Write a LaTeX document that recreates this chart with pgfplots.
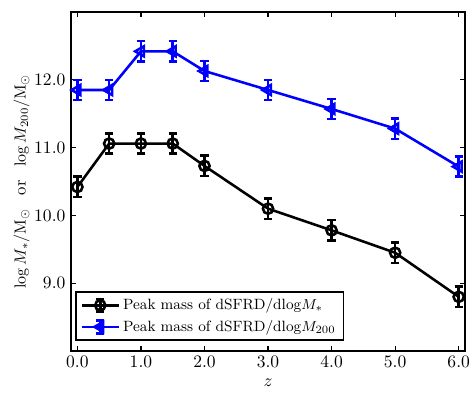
\documentclass[border=0pt]{standalone}
\usepackage{pgfplots}
\pgfplotsset{compat=1.18}
\pgfplotstableread{
z m e
0.0 10.42 0.15
0.5 11.06 0.15
1.0 11.06 0.15
1.5 11.06 0.15
2.0 10.73 0.15
3.0 10.10 0.15
4.0 9.78 0.15
5.0 9.45 0.15
6.0 8.80 0.15
}\starT
\pgfplotstableread{
z m e
0.0 11.85 0.15
0.5 11.85 0.15
1.0 12.42 0.15
1.5 12.42 0.15
2.0 12.13 0.15
3.0 11.85 0.15
4.0 11.57 0.15
5.0 11.28 0.15
6.0 10.72 0.15
}\haloT
\begin{document}
\begin{tikzpicture}
\begin{axis}[
  name=ax,
  scale only axis, width=246.25pt, height=211.9pt,
  xmin=-0.1, xmax=6.1, ymin=8.0, ymax=13.0,
  xtick={0,1,2,3,4,5,6}, ytick={9,10,11,12},
  xticklabel={\pgfmathprintnumber[fixed,fixed zerofill,precision=1]{\tick}},
  yticklabel={\pgfmathprintnumber[fixed,fixed zerofill,precision=1]{\tick}},
  tick label style={font=\fontsize{11.2}{13}\selectfont},
  tick align=inside, xtick pos=both, ytick pos=both,
  major tick length=3pt,
  axis line style={line width=0.9pt},
  every tick/.style={black, line width=0.7pt},
  xlabel={$z$},
  xlabel style={font=\fontsize{10.9}{13}\selectfont},
  ylabel={$\log M_*/\mathrm{M}_\odot$\enspace\ or\enspace\ $\log M_{200}/\mathrm{M}_\odot$},
  ylabel style={font=\fontsize{10.4}{12}\selectfont, yshift=-4pt},
  legend style={at={(0.01,0.03)}, anchor=south west, draw=black, line width=1pt,
    font=\fontsize{9.3}{11}\selectfont,
    row sep=1pt, inner xsep=3pt, inner ysep=2pt},
  legend cell align=left,
  legend image code/.code={
    \draw[#1] (0pt,0pt) -- (23pt,0pt);
    \draw[#1] (11.5pt,-4pt) -- (11.5pt,4pt);
    \draw[#1] (9pt,4pt) -- (14pt,4pt);
    \draw[#1] (9pt,-4pt) -- (14pt,-4pt);
    \draw[#1] plot coordinates {(11.5pt,0pt)};
  },
]
\addplot[black, line width=1.6pt, mark=o, mark size=3.2pt,
  error bars/.cd, y dir=both, y explicit,
  error bar style={line width=1.6pt},
  error mark options={rotate=90, line width=1.6pt, mark size=2.6pt}]
  table[x=z, y=m, y error=e] {\starT};
\addlegendentry{Peak mass of dSFRD/dlog$M_*$}
\addplot[blue, line width=1.6pt, mark=triangle, mark size=3.6pt, mark options={rotate=90},
  error bars/.cd, y dir=both, y explicit,
  error bar style={line width=1.6pt},
  error mark options={rotate=90, line width=1.6pt, mark size=2.6pt}]
  table[x=z, y=m, y error=e] {\haloT};
\addlegendentry{Peak mass of dSFRD/dlog$M_{200}$}
\end{axis}
\pgfresetboundingbox
\path ([shift={(-44.4pt,-27.5pt)}]ax.south west) rectangle ([shift={(5.6pt,7.5pt)}]ax.north east);
\end{tikzpicture}
\end{document}
